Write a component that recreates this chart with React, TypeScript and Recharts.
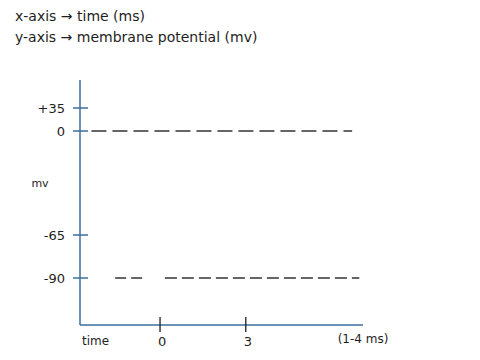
import React from 'react';
import { LineChart, Line, XAxis, YAxis, Label } from 'recharts';

// ---- data ----
const titleLines = ['x-axis \u2192 time (ms)', 'y-axis \u2192 membrane potential (mv)'];
const yTickValues = [35, 0, -65, -90];
const yTickLabels = ['+35', '0', '-65', '-90'];
const xTickValues = [0, 3];
const xTickLabels = ['0', '3'];
const xStartLabel = 'time';
const xEndLabel = '(1-4 ms)';
const yAxisName = 'mv';
const xDomain = [-2.8, 7.1];
const yDomain = [-117, 78];

// dashed reference traces (time in ms, potential in mV)
const restingTrace = [
  { t: -2.4, v: 0 },
  { t: 6.72, v: 0 },
];
const lowTraceA = [
  { t: -1.57, v: -90 },
  { t: -0.52, v: -90 },
];
const lowTraceB = [
  { t: 0.17, v: -90 },
  { t: 6.97, v: -90 },
];

// hand-drawn (non-uniform) vertical axis: value -> fraction of axis height
const yScaleStops: [number, number][] = [
  [-117, 0],
  [-90, 0.1918],
  [-65, 0.3673],
  [0, 0.7918],
  [35, 0.8857],
  [78, 1],
];

function makePiecewiseScale(stops: [number, number][], dom?: number[], rng?: number[]): any {
  let d = dom ? dom.slice() : [stops[0][0], stops[stops.length - 1][0]];
  let r = rng ? rng.slice() : [0, 1];
  const frac = (v: number) => {
    if (v <= stops[0][0]) {
      const [a, fa] = stops[0];
      const [b, fb] = stops[1];
      return fa + ((v - a) * (fb - fa)) / (b - a);
    }
    for (let i = 0; i < stops.length - 1; i++) {
      const [a, fa] = stops[i];
      const [b, fb] = stops[i + 1];
      if (v <= b) return fa + ((v - a) * (fb - fa)) / (b - a);
    }
    const [a, fa] = stops[stops.length - 2];
    const [b, fb] = stops[stops.length - 1];
    return fa + ((v - a) * (fb - fa)) / (b - a);
  };
  const s: any = (v: number) => r[0] + frac(v) * (r[r.length - 1] - r[0]);
  s.domain = (x?: number[]) => {
    if (x === undefined) return d;
    d = x.slice();
    return s;
  };
  s.range = (x?: number[]) => {
    if (x === undefined) return r;
    r = x.slice();
    return s;
  };
  s.copy = () => makePiecewiseScale(stops, d, r);
  s.ticks = () => yTickValues.slice();
  s.tickFormat = () => (v: number) => String(v);
  s.invert = (px: number) => {
    const f = (px - r[0]) / (r[r.length - 1] - r[0]);
    for (let i = 0; i < stops.length - 1; i++) {
      const [a, fa] = stops[i];
      const [b, fb] = stops[i + 1];
      if (f <= fb) return a + ((f - fa) * (b - a)) / (fb - fa);
    }
    return stops[stops.length - 1][0];
  };
  s.clamp = () => s;
  s.nice = () => s;
  return s;
}

const yScale = makePiecewiseScale(yScaleStops);

const AXIS_COLOR = '#3b6f9f';
const INK = '#1e1e1e';
const FONT = '"DejaVu Sans", sans-serif';

const YTick = (props: any) => {
  const { x, y, payload } = props;
  const idx = yTickValues.indexOf(payload.value);
  return (
    <g>
      <line x1={x - 7} x2={x + 8} y1={y} y2={y} stroke={AXIS_COLOR} strokeWidth={1.5} />
      <text x={x - 15} y={y} dy={5} textAnchor="end" fontSize={13} fill={INK} fontFamily={FONT}>
        {idx >= 0 ? yTickLabels[idx] : payload.value}
      </text>
    </g>
  );
};

const XTick = (props: any) => {
  const { x, y, payload } = props;
  const idx = xTickValues.indexOf(payload.value);
  return (
    <g>
      <line x1={x} x2={x} y1={y - 8} y2={y + 7} stroke={INK} strokeWidth={1.3} />
      <text x={x + 2} y={y + 21} textAnchor="middle" fontSize={13} fill={INK} fontFamily={FONT}>
        {idx >= 0 ? xTickLabels[idx] : payload.value}
      </text>
    </g>
  );
};

const XEndsLabel = (props: any) => {
  const vb = props.viewBox || {};
  const x0 = vb.x ?? 80;
  const y0 = vb.y ?? 325;
  const w = vb.width ?? 283;
  return (
    <g>
      <text x={x0 + 2} y={y0 + 20} fontSize={12} fill={INK} fontFamily={FONT}>
        {xStartLabel}
      </text>
      <text x={x0 + w} y={y0 + 18} textAnchor="middle" fontSize={12} fill={INK} fontFamily={FONT}>
        {xEndLabel}
      </text>
    </g>
  );
};

const YNameLabel = () => (
  <text x={40} y={187} textAnchor="middle" fontSize={11} fill={INK} fontFamily={FONT}>
    {yAxisName}
  </text>
);

export default function App() {
  return (
    <div style={{ position: 'absolute', left: 0, top: 0, width: 480, height: 360, background: '#fff' }}>
      <div style={{ position: 'absolute', left: 15, top: 6, fontFamily: FONT, fontSize: 14, color: INK, lineHeight: '21px' }}>
        <div>{titleLines[0]}</div>
        <div>{titleLines[1]}</div>
      </div>
      <div style={{ position: 'absolute', left: 0, top: 0 }}>
        <LineChart width={480} height={360} margin={{ top: 80, right: 117, bottom: 5, left: 20 }}>
          <XAxis
            dataKey="t"
            type="number"
            domain={xDomain}
            ticks={xTickValues}
            allowDataOverflow
            stroke={AXIS_COLOR}
            strokeWidth={1.5}
            tickLine={false}
            tickSize={0}
            tickMargin={0}
            height={30}
            tick={<XTick />}
            interval={0}
          >
            <Label content={<XEndsLabel />} />
          </XAxis>
          <YAxis
            dataKey="v"
            type="number"
            domain={yDomain}
            scale={yScale}
            ticks={yTickValues}
            allowDataOverflow
            stroke={AXIS_COLOR}
            strokeWidth={1.5}
            tickLine={false}
            tickSize={0}
            tickMargin={0}
            width={60}
            tick={<YTick />}
            interval={0}
          >
            <Label content={<YNameLabel />} />
          </YAxis>
          <Line data={restingTrace} dataKey="v" stroke="#333" strokeWidth={1.5} strokeDasharray="15 6" dot={false} isAnimationActive={false} />
          <Line data={lowTraceA} dataKey="v" stroke="#333" strokeWidth={1.5} strokeDasharray="11 5" dot={false} isAnimationActive={false} />
          <Line data={lowTraceB} dataKey="v" stroke="#333" strokeWidth={1.5} strokeDasharray="12 5" dot={false} isAnimationActive={false} />
        </LineChart>
      </div>
    </div>
  );
}
